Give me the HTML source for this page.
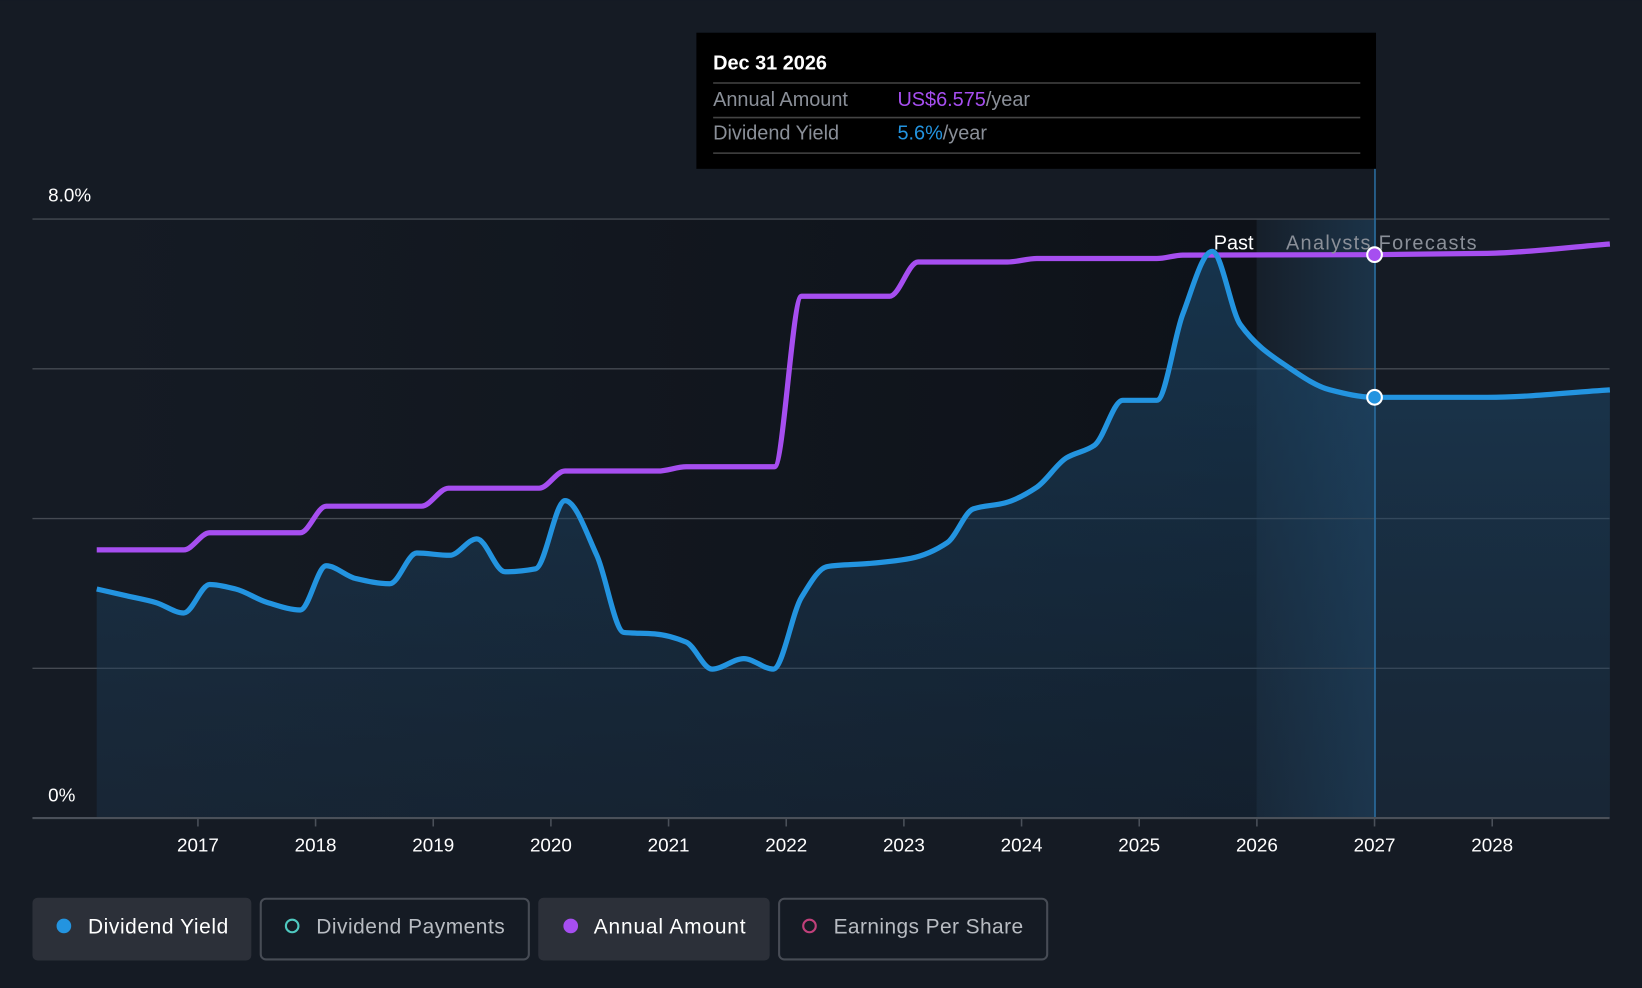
<!DOCTYPE html>
<html><head><meta charset="utf-8"><style>
html,body{margin:0;padding:0;background:#151b24;}
svg{display:block;font-family:"Liberation Sans",sans-serif;}
</style></head><body>
<svg id="chart" width="1642" height="988" viewBox="0 0 1568 943">
<defs>
<linearGradient id="fillg" x1="0" y1="0" x2="0" y2="1"><stop offset="0" stop-color="#1d4f76" stop-opacity="0.55"/><stop offset="1" stop-color="#1d3a55" stop-opacity="0.35"/></linearGradient>
<linearGradient id="fc" x1="0" y1="0" x2="1" y2="0"><stop offset="0" stop-color="#2a6c9e" stop-opacity="0.05"/><stop offset="1" stop-color="#2a6c9e" stop-opacity="0.3"/></linearGradient>
<linearGradient id="pastg" x1="0" y1="0" x2="1" y2="0"><stop offset="0" stop-color="#151b24"/><stop offset="1" stop-color="#0e1219"/></linearGradient>
</defs>
<rect x="0" y="0" width="1568" height="943" fill="#151b24"/>
<rect x="92" y="209" width="1108" height="572" fill="url(#pastg)"/>
<rect x="1200" y="209" width="114" height="572" fill="url(#fc)"/>
<g id="grid"></g>
<path id="area" fill="url(#fillg)"/>
<line x1="1313" y1="160" x2="1313" y2="781" stroke="#2a6c9e" stroke-width="1.5"/>
<path id="purple" fill="none" stroke="#a64ef0" stroke-width="5" stroke-linejoin="round"/>
<path id="blue" fill="none" stroke="#2394e0" stroke-width="5" stroke-linejoin="round"/>
<text x="1197" y="238" fill="#fff" font-size="19" text-anchor="end">Past</text>
<text x="1228" y="238" fill="#8a8f98" font-size="19" textLength="182">Analysts Forecasts</text>
<circle id="pdot" r="7" fill="#a64ef0" stroke="#fff" stroke-width="2"/>
<circle id="bdot" r="7" fill="#2394e0" stroke="#fff" stroke-width="2"/>
<text x="46" y="192" fill="#fff" font-size="18">8.0%</text>
<text x="46" y="765" fill="#fff" font-size="18">0%</text>
<line x1="31" y1="781" x2="1537" y2="781" stroke="#4a5059" stroke-width="2"/>
<g id="xt"></g>
<g>
<rect x="665" y="31" width="649" height="130" fill="#000"/>
<text x="681" y="66" fill="#fff" font-size="19" font-weight="bold">Dec 31 2026</text>
<line x1="681" y1="79" x2="1299" y2="79" stroke="#444" stroke-width="1.5"/>
<text x="681" y="101" fill="#8a8f98" font-size="19">Annual Amount</text>
<text x="857" y="101" font-size="19"><tspan fill="#a64ef0">US$6.575</tspan><tspan fill="#8a8f98">/year</tspan></text>
<line x1="681" y1="112" x2="1299" y2="112" stroke="#444" stroke-width="1.5"/>
<text x="681" y="133" fill="#8a8f98" font-size="19">Dividend Yield</text>
<text x="857" y="133" font-size="19"><tspan fill="#2394e0">5.6%</tspan><tspan fill="#8a8f98">/year</tspan></text>
<line x1="681" y1="146" x2="1299" y2="146" stroke="#444" stroke-width="1.5"/>
</g>
<g><rect x="31" y="857" width="209" height="60" rx="5" fill="#2c3039"/><circle cx="61" cy="884" r="7" fill="#2394e0"/><text x="84" y="891" fill="#fff" font-size="20" textLength="134">Dividend Yield</text></g>
<g><rect x="249" y="858" width="256" height="58" rx="5" fill="none" stroke="#474c55" stroke-width="2"/><circle cx="279" cy="884" r="6" fill="none" stroke="#4fc9c0" stroke-width="2"/><text x="302" y="891" fill="#b8bcc2" font-size="20" textLength="180">Dividend Payments</text></g>
<g><rect x="514" y="857" width="221" height="60" rx="5" fill="#2c3039"/><circle cx="545" cy="884" r="7" fill="#a64ef0"/><text x="567" y="891" fill="#fff" font-size="20" textLength="145">Annual Amount</text></g>
<g><rect x="744" y="858" width="256" height="58" rx="5" fill="none" stroke="#474c55" stroke-width="2"/><circle cx="773" cy="884" r="6" fill="none" stroke="#c0407a" stroke-width="2"/><text x="796" y="891" fill="#b8bcc2" font-size="20" textLength="181">Earnings Per Share</text></g>
</svg>
<script>
const yieldYears=[2016.14,2016.39,2016.64,2016.88,2017.10,2017.32,2017.59,2017.87,2018.09,2018.34,2018.63,2018.86,2019.14,2019.37,2019.61,2019.87,2020.12,2020.39,2020.62,2020.88,2021.15,2021.37,2021.64,2021.89,2022.13,2022.35,2022.70,2023.06,2023.37,2023.59,2023.86,2024.13,2024.38,2024.62,2024.86,2025.15,2025.37,2025.62,2025.86,2026.26,2026.62,2027.0,2027.96,2029.0];
const yieldValues=[3.06,2.97,2.88,2.74,3.12,3.06,2.88,2.78,3.37,3.20,3.13,3.54,3.51,3.73,3.29,3.33,4.24,3.51,2.48,2.46,2.35,1.99,2.13,1.99,2.95,3.36,3.40,3.47,3.68,4.13,4.21,4.42,4.81,4.98,5.58,5.58,6.73,7.57,6.59,6.03,5.72,5.62,5.62,5.72];
const amountYears=[2016.14,2016.88,2017.10,2017.87,2018.09,2018.90,2019.13,2019.90,2020.12,2020.91,2021.15,2021.90,2022.13,2022.88,2023.12,2023.88,2024.13,2025.15,2025.37,2027.0,2027.96,2029.0];
const amountValues=[3.13,3.13,3.33,3.33,3.64,3.64,3.85,3.85,4.05,4.05,4.10,4.10,6.09,6.09,6.49,6.49,6.53,6.53,6.57,6.575,6.59,6.70];
const xTicks=[2017,2018,2019,2020,2021,2022,2023,2024,2025,2026,2027,2028];
const yGrid=[0,2,4,6,8];
const NS="http://www.w3.org/2000/svg";
const X=t=>189+(t-2017)*112.36;
const Y=v=>781-v*71.5;
const A=v=>781-v*81.83;
function path(xs,ys){const n=xs.length;const d=[],m=[];
for(let i=0;i<n-1;i++)d.push((ys[i+1]-ys[i])/(xs[i+1]-xs[i]));
for(let i=0;i<n;i++){if(i==0)m.push(d[0]);else if(i==n-1)m.push(d[n-2]);else if(d[i-1]*d[i]<=0)m.push(0);else{const h0=xs[i]-xs[i-1],h1=xs[i+1]-xs[i];m.push(3*(h0+h1)/((2*h1+h0)/d[i-1]+(h1+2*h0)/d[i]));}}
let s="M"+xs[0]+","+ys[0];
for(let i=0;i<n-1;i++){const h=(xs[i+1]-xs[i])/3;s+=" C"+(xs[i]+h)+","+(ys[i]+m[i]*h)+" "+(xs[i+1]-h)+","+(ys[i+1]-m[i+1]*h)+" "+xs[i+1]+","+ys[i+1];}
return s;}
const bx=yieldYears.map(X),by=yieldValues.map(Y);
const bd=path(bx,by);
document.getElementById('blue').setAttribute('d',bd);
document.getElementById('area').setAttribute('d',bd+" L"+bx[bx.length-1]+",781 L"+bx[0]+",781 Z");
document.getElementById('purple').setAttribute('d',path(amountYears.map(X),amountValues.map(A)));
const pi=amountYears.indexOf(2027.0),bi=yieldYears.indexOf(2027.0);
const pd=document.getElementById('pdot');pd.setAttribute('cx',X(amountYears[pi]));pd.setAttribute('cy',A(amountValues[pi]));
const bdd=document.getElementById('bdot');bdd.setAttribute('cx',X(yieldYears[bi]));bdd.setAttribute('cy',Y(yieldValues[bi]));
const g=document.getElementById('grid');
yGrid.forEach(v=>{const l=document.createElementNS(NS,'line');


l.setAttribute('x1',31);l.setAttribute('x2',1537);l.setAttribute('y1',Y(v));l.setAttribute('y2',Y(v));l.setAttribute('stroke','#454a52');l.setAttribute('stroke-width','1.3');g.appendChild(l);});
const xt=document.getElementById('xt');
xTicks.forEach(t=>{const l=document.createElementNS(NS,'line');


l.setAttribute('x1',X(t));l.setAttribute('x2',X(t));l.setAttribute('y1',781);l.setAttribute('y2',789);l.setAttribute('stroke','#4a5059');l.setAttribute('stroke-width','1.5');xt.appendChild(l);
const s=document.createElementNS(NS,'text');


s.setAttribute('x',X(t));s.setAttribute('y',813);s.setAttribute('fill','#fff');s.setAttribute('font-size','18');s.setAttribute('text-anchor','middle');s.textContent=t;xt.appendChild(s);});
</script>
</body></html>
